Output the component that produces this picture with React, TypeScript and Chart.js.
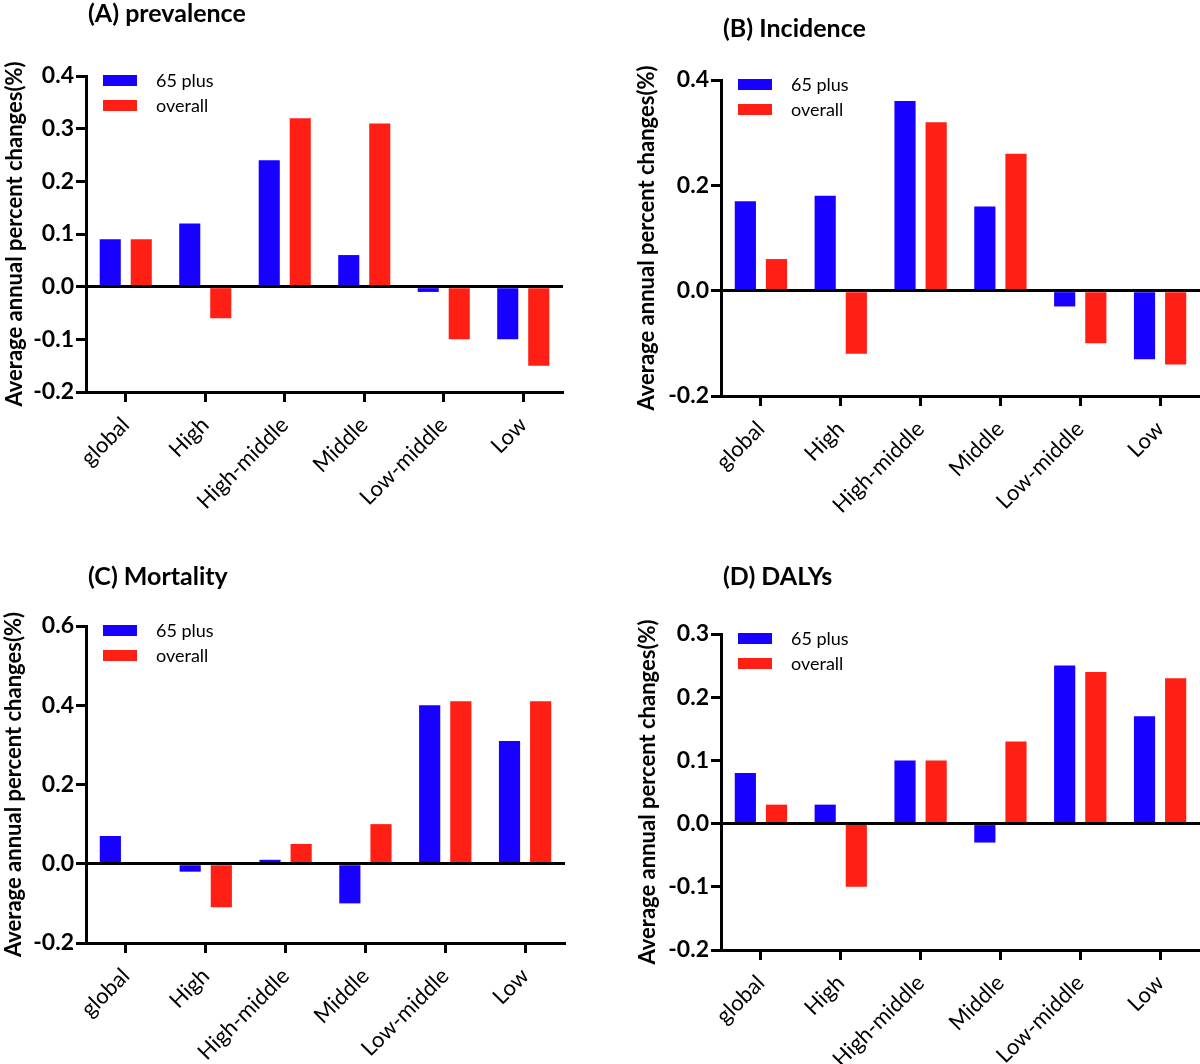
import React, { useEffect, useRef } from "react";
import { Chart, registerables } from "chart.js";

Chart.register(...registerables);

// categories and series
const categories = ["global", "High", "High-middle", "Middle", "Low-middle", "Low"];
const seriesNames = ["65 plus", "overall"];

// (A) prevalence
const prevalence65 = [0.09, 0.12, 0.24, 0.06, -0.01, -0.1];
const prevalenceOverall = [0.09, -0.06, 0.32, 0.31, -0.1, -0.15];
const prevalenceTicks = [-0.2, -0.1, 0, 0.1, 0.2, 0.3, 0.4];

// (B) Incidence
const incidence65 = [0.17, 0.18, 0.36, 0.16, -0.03, -0.13];
const incidenceOverall = [0.06, -0.12, 0.32, 0.26, -0.1, -0.14];
const incidenceTicks = [-0.2, 0, 0.2, 0.4];

// (C) Mortality
const mortality65 = [0.07, -0.02, 0.01, -0.1, 0.4, 0.31];
const mortalityOverall = [0, -0.11, 0.05, 0.1, 0.41, 0.41];
const mortalityTicks = [-0.2, 0, 0.2, 0.4, 0.6];

// (D) DALYs
const dalys65 = [0.08, 0.03, 0.1, -0.03, 0.25, 0.17];
const dalysOverall = [0.03, -0.1, 0.1, 0.13, 0.24, 0.23];
const dalysTicks = [-0.2, -0.1, 0, 0.1, 0.2, 0.3];

const BLUE = "#1700ff";
const RED = "#ff1f14";
const FONT = "Lato, 'Open Sans', sans-serif";

type Area = { left: number; top: number; right: number; bottom: number };

type PanelProps = {
  title: string;
  values65: number[];
  valuesOverall: number[];
  yTicks: number[];
  x: number;
  y: number;
  width: number;
  height: number;
  area: Area;
  titleY: number;
  yTitleX: number;
};

const BarPanel: React.FC<PanelProps> = (p) => {
  const canvasRef = useRef<HTMLCanvasElement | null>(null);

  useEffect(() => {
    if (!canvasRef.current) return;
    const area = p.area;

    // panel title + legend inside the plot, top-left
    const decor = {
      id: "decor",
      afterDraw(chart: any) {
        const ctx = chart.ctx;
        const ca = chart.chartArea;
        ctx.save();
        ctx.textBaseline = "middle";
        ctx.textAlign = "left";
        ctx.fillStyle = "#000";
        ctx.font = `bold 25px ${FONT}`;
        ctx.fillText(p.title, ca.left + 2, p.titleY);
        ctx.font = `18px ${FONT}`;
        chart.data.datasets.forEach((ds: any, i: number) => {
          const top = ca.top - 1 + i * 25;
          ctx.fillStyle = ds.backgroundColor;
          ctx.fillRect(ca.left + 17, top, 34, 11);
          ctx.fillStyle = "#000";
          ctx.fillText(ds.label, ca.left + 70, top + 6);
        });
        ctx.restore();
      },
    };

    const chart = new Chart(canvasRef.current, {
      type: "bar",
      data: {
        labels: categories,
        datasets: [
          {
            label: seriesNames[0],
            data: p.values65,
            backgroundColor: BLUE,
            categoryPercentage: 0.78,
            barPercentage: 0.68,
          },
          {
            label: seriesNames[1],
            data: p.valuesOverall,
            backgroundColor: RED,
            categoryPercentage: 0.78,
            barPercentage: 0.68,
          },
        ],
      },
      options: {
        responsive: false,
        animation: false,
        layout: {
          padding: { left: 0, top: area.top, right: p.width - area.right, bottom: 0 },
        },
        plugins: {
          legend: { display: false },
          tooltip: { enabled: false },
        },
        scales: {
          x: {
            offset: true,
            grid: {
              offset: false,
              drawOnChartArea: false,
              drawTicks: true,
              tickLength: 10,
              tickWidth: 3,
              tickColor: "#000",
            },
            border: { display: true, color: "#000", width: 3 },
            ticks: {
              autoSkip: false,
              minRotation: 45,
              maxRotation: 45,
              color: "#000",
              padding: 10,
              font: { family: FONT, size: 22 },
            },
            afterFit: (s: any) => {
              s.height = p.height - area.bottom;
            },
          },
          y: {
            min: p.yTicks[0],
            max: p.yTicks[p.yTicks.length - 1],
            afterBuildTicks: (s: any) => {
              s.ticks = p.yTicks.map((v) => ({ value: v }));
            },
            grid: {
              z: 1,
              lineWidth: 3,
              color: (c: any) =>
                c.tick && Math.abs(c.tick.value) < 1e-9 ? "#000" : "rgba(0,0,0,0)",
              drawTicks: true,
              tickLength: 10,
              tickWidth: 3,
              tickColor: "#000",
            },
            border: { display: true, color: "#000", width: 3, z: 1 },
            ticks: {
              color: "#000",
              padding: 2,
              font: { family: FONT, size: 23, weight: "bold" },
              callback: (v: any) => Number(v).toFixed(1),
            },
            title: {
              display: true,
              text: "Average annual percent changes(%)",
              color: "#000",
              font: { family: FONT, size: 22, weight: "bold" },
              padding: { top: p.yTitleX - 13, bottom: 0 },
            },
            afterFit: (s: any) => {
              s.width = area.left;
            },
          },
        },
      } as any,
      plugins: [decor],
    });

    return () => {
      chart.destroy();
    };
  }, []);

  return (
    <canvas
      ref={canvasRef}
      width={p.width}
      height={p.height}
      style={{ position: "absolute", left: p.x, top: p.y, width: p.width, height: p.height }}
    />
  );
};

const App: React.FC = () => {
  return (
    <div
      style={{
        position: "absolute",
        left: 0,
        top: 0,
        width: 1200,
        height: 1064,
        background: "#fff",
        overflow: "hidden",
      }}
    >
      <BarPanel
        title="(A) prevalence"
        values65={prevalence65}
        valuesOverall={prevalenceOverall}
        yTicks={prevalenceTicks}
        x={0}
        y={0}
        width={600}
        height={530}
        area={{ left: 86, top: 76, right: 563, bottom: 392 }}
        titleY={14}
        yTitleX={15}
      />
      <BarPanel
        title="(B) Incidence"
        values65={incidence65}
        valuesOverall={incidenceOverall}
        yTicks={incidenceTicks}
        x={600}
        y={0}
        width={600}
        height={530}
        area={{ left: 121, top: 80, right: 600, bottom: 396 }}
        titleY={29}
        yTitleX={47}
      />
      <BarPanel
        title="(C) Mortality"
        values65={mortality65}
        valuesOverall={mortalityOverall}
        yTicks={mortalityTicks}
        x={0}
        y={540}
        width={600}
        height={524}
        area={{ left: 86, top: 86, right: 565, bottom: 403 }}
        titleY={37}
        yTitleX={14}
      />
      <BarPanel
        title="(D) DALYs"
        values65={dalys65}
        valuesOverall={dalysOverall}
        yTicks={dalysTicks}
        x={600}
        y={540}
        width={600}
        height={524}
        area={{ left: 121, top: 94, right: 600, bottom: 410 }}
        titleY={37}
        yTitleX={48}
      />
    </div>
  );
};

export default App;
